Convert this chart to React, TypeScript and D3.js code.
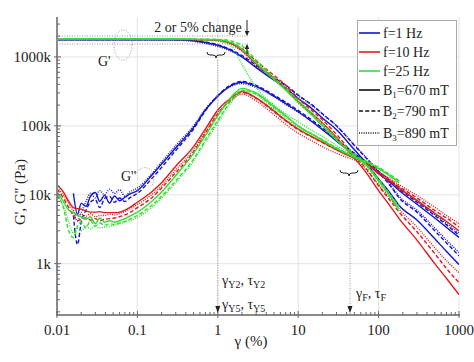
import React from "react";
import * as d3 from "d3";

// ---------- data ----------
const gpGamma = [0.01, 0.03, 0.1, 0.3, 0.5, 0.7, 1, 1.5, 2, 3, 5, 7, 10, 15, 20, 30, 50, 70, 100, 140, 180, 300, 500, 700, 1000];
const gppGamma = [0.01, 0.012, 0.014, 0.016, 0.018, 0.02, 0.023, 0.026, 0.03, 0.034, 0.039, 0.045, 0.052, 0.06, 0.07, 0.08, 0.1, 0.15, 0.2, 0.3, 0.5, 0.7, 1, 1.5, 2, 3, 5, 7, 10, 15, 20, 30, 50, 70, 100, 140, 180, 300, 500, 700, 1000];

// storage modulus G' (kPa)
const gpBlueB1 = [1780, 1780, 1780, 1770, 1720, 1620, 1480, 1230, 1000, 700, 460, 355, 250, 176, 130, 88, 45, 29, 17, 10.5, 7.0, 4.3, 2.3, 1.5, 0.97];
const gpBlueB2 = [1790, 1790, 1790, 1780, 1740, 1650, 1500, 1260, 1050, 760, 500, 390, 280, 200, 150, 100, 52, 34, 21, 13.5, 9.0, 5.6, 3.0, 2.0, 1.3];
const gpBlueB3 = [1770, 1770, 1770, 1750, 1680, 1570, 1420, 1200, 1000, 730, 490, 380, 275, 195, 148, 100, 53, 35, 22, 14, 9.5, 6.0, 3.3, 2.2, 1.45];
const gpRedB1 = [1800, 1800, 1800, 1800, 1790, 1770, 1740, 1550, 1250, 800, 490, 350, 225, 150, 110, 68, 34, 21, 11.5, 6.8, 4.5, 2.2, 1.0, 0.61, 0.355];
const gpRedB2 = [1810, 1810, 1810, 1810, 1800, 1790, 1760, 1600, 1320, 870, 540, 390, 250, 165, 122, 75, 37, 24, 13.5, 8.2, 5.6, 2.9, 1.4, 0.85, 0.53];
const gpRedB3 = [1790, 1790, 1790, 1790, 1780, 1760, 1720, 1500, 1200, 760, 470, 335, 215, 145, 106, 66, 34, 23, 14, 8.8, 6.2, 3.4, 1.7, 1.1, 0.74];
const gpGreenB1 = [1820, 1820, 1820, 1820, 1810, 1790, 1780, 1600, 1300, 820, 470, 330, 220, 140, 100, 62, 37, 27, 16, 9.5, 6.2, null, null, null, null];
const gpGreenB2 = [1830, 1830, 1830, 1830, 1820, 1810, 1800, 1700, 1450, 900, 500, 350, 235, 150, 108, 66, 39, 28, 17, 10, 6.8, null, null, null, null];
const gpGreenB3 = [1810, 1810, 1810, 1800, 1780, 1750, 1700, 1400, 780, 360, 200, 150, 115, 85, 70, 52, 35, 26, 15, 9, 5.6, null, null, null, null];

// loss modulus G'' (kPa)
const gppBlueB1 = [null, null, null, 10.5, 5.2, 7.5, 6.8, 9.5, 10.8, 8.0, 9.8, 7.6, 9.6, 8.2, 9.2, 10.2, 11.5, 19, 28, 48, 95, 170, 270, 390, 430, 375, 270, 210, 160, 114, 88, 60, 38, 29, 20.5, 15, 11.5, 7.3, 4.6, 3.35, 2.4];
const gppBlueB2 = [null, null, null, 5.0, 1.9, 4.0, 6.0, 7.8, 8.5, 6.5, 8.8, 9.5, 7.8, 9.0, 8.0, 9.0, 10.5, 17, 25, 44, 90, 165, 275, 400, 440, 385, 280, 220, 168, 120, 93, 64, 40, 30, 21.5, 15.8, 12.2, 7.8, 5.0, 3.65, 2.6];
const gppBlueB3 = [null, null, null, 6.0, 4.2, 5.5, 8.0, 10.5, 9.0, 11.5, 10.0, 12.0, 10.5, 11.8, 9.5, 11.0, 12.5, 20, 30, 52, 100, 175, 275, 380, 410, 360, 265, 205, 158, 115, 90, 63, 40, 30.5, 22, 16.2, 12.6, 8.1, 5.2, 3.85, 2.8];
const gppRedB1 = [14, 11, 8.0, 6.5, 6.3, 6.2, 5.8, 5.6, 5.6, 5.7, 5.5, 5.5, 5.5, 5.6, 6.0, 6.5, 7.8, 11, 15, 26, 50, 90, 170, 260, 315, 255, 165, 120, 90, 69, 58, 45, 34, 29, 20, 15.5, 12.5, 8.3, 5.4, 4.1, 3.0];
const gppRedB2 = [12, 9, 6.5, 5.0, 4.2, 4.4, 4.6, 4.3, 4.5, 4.2, 4.4, 4.5, 4.6, 4.8, 5.1, 5.5, 6.5, 9, 12.5, 21, 42, 78, 150, 245, 305, 250, 160, 118, 88, 68, 57, 45, 34.5, 29.5, 21, 16.2, 13.2, 9.0, 5.9, 4.6, 3.4];
const gppRedB3 = [12.5, 10, 7.5, 5.8, 5.0, 5.2, 4.9, 5.3, 4.8, 5.0, 5.0, 5.2, 5.1, 5.4, 5.7, 6.2, 7.2, 10, 13.5, 23, 45, 82, 155, 240, 290, 230, 145, 105, 78, 60, 50, 40, 32, 28, 21.5, 17, 14, 9.8, 6.6, 5.0, 3.8];
const gppGreenB1 = [11, 8.0, 6.0, 5.5, 5.0, 4.8, 4.4, 4.8, 3.8, 4.6, 4.0, 4.2, 4.0, 4.2, 4.5, 4.9, 5.6, 8, 11, 19, 40, 72, 140, 270, 350, 300, 190, 140, 100, 75, 62, 47, 35, 30, 24, 18.5, 15, null, null, null, null];
const gppGreenB2 = [10, 6.5, 3.0, 2.4, 3.5, 4.0, 3.3, 4.2, 3.5, 3.9, 3.6, 3.8, 3.7, 3.9, 4.1, 4.4, 5.0, 7, 9.5, 16, 33, 62, 120, 240, 330, 290, 185, 138, 100, 76, 63, 48, 36, 31, 25, 19.5, 16, null, null, null, null];
const gppGreenB3 = [9.5, 7.0, 4.0, 2.8, 3.2, 3.0, 3.5, 3.2, 3.6, 3.3, 3.4, 3.5, 3.6, 3.8, 4.0, 4.2, 4.7, 6.5, 9, 15, 31, 58, 110, 225, 320, 280, 175, 130, 95, 72, 60, 46, 35, 30, 24.5, 19, 15.5, null, null, null, null];

const xTicks = [0.01, 0.1, 1, 10, 100, 1000];
const xTickLabels = ["0.01", "0.1", "1", "10", "100", "1000"];
const yTicks = [1e3, 1e4, 1e5, 1e6];
const yTickLabels = ["1k", "10k", "100k", "1000k"];

const freqLabels = ["f=1 Hz", "f=10 Hz", "f=25 Hz"];
const fieldSubs = ["1", "2", "3"];
const fieldValues = ["=670 mT", "=790 mT", "=890 mT"];

// ---------- styles ----------
const COLORS = ["#1414cc", "#e41a1a", "#2fe02f"];
const DASHES = [null, "4,2.2", "1,1.3"];
const FONT = "Liberation Serif, DejaVu Serif, serif";
const TXT = "#222";
const TS = { fontFamily: FONT };

const W = 474, H = 362;
const x = d3.scaleLog().domain([0.01, 1000]).range([57, 459]);
const y = d3.scaleLog().domain([180, 3.8e6]).range([315, 17]);

const series = [
  { c: 0, f: 0, g: gpBlueB1, gp: gppBlueB1 },
  { c: 0, f: 1, g: gpBlueB2, gp: gppBlueB2 },
  { c: 0, f: 2, g: gpBlueB3, gp: gppBlueB3 },
  { c: 1, f: 0, g: gpRedB1, gp: gppRedB1 },
  { c: 1, f: 1, g: gpRedB2, gp: gppRedB2 },
  { c: 1, f: 2, g: gpRedB3, gp: gppRedB3 },
  { c: 2, f: 0, g: gpGreenB1, gp: gppGreenB1 },
  { c: 2, f: 1, g: gpGreenB2, gp: gppGreenB2 },
  { c: 2, f: 2, g: gpGreenB3, gp: gppGreenB3 },
];

const line = d3
  .line<[number, number | null]>()
  .defined((d) => d[1] != null)
  .x((d) => x(d[0]))
  .y((d) => y((d[1] as number) * 1000))
  .curve(d3.curveMonotoneX);

function minorTicks(lo: number, hi: number) {
  const out: number[] = [];
  for (let e = Math.floor(Math.log10(lo)); e <= Math.ceil(Math.log10(hi)); e++) {
    for (let m = 2; m <= 9; m++) {
      const v = m * Math.pow(10, e);
      if (v > lo && v < hi) out.push(v);
    }
  }
  return out;
}

function Brace({ cx, cy, w }: { cx: number; cy: number; w: number }) {
  const h = w / 2;
  const d = `M${cx - h},${cy - 3} Q${cx - h},${cy} ${cx - h + 3},${cy} L${cx - 3},${cy} Q${cx},${cy} ${cx},${cy + 3} Q${cx},${cy} ${cx + 3},${cy} L${cx + h - 3},${cy} Q${cx + h},${cy} ${cx + h},${cy - 3}`;
  return <path d={d} fill="none" stroke="#222" strokeWidth={1} />;
}

export default function App() {
  const xMinor = minorTicks(0.01, 1000);
  const yMinor = minorTicks(180, 3.8e6);
  const ordered = [0, 1, 2].flatMap((c) => series.filter((s) => s.c === c));
  return (
    <svg width={W} height={H} style={{ position: "absolute", left: 0, top: 0, background: "#fff", fontFamily: FONT }}>
      <defs>
        <clipPath id="plot">
          <rect x={57} y={17} width={402} height={298} />
        </clipPath>
        <marker id="ah" viewBox="0 0 6 6" refX={5} refY={3} markerWidth={5} markerHeight={5} orient="auto">
          <path d="M0,0 L6,3 L0,6 z" fill="#222" />
        </marker>
      </defs>

      {/* gridlines */}
      {xTicks.slice(1).map((t) => (
        <line key={"gx" + t} x1={x(t)} x2={x(t)} y1={17} y2={315} stroke="#e3e3e3" strokeWidth={1} />
      ))}
      {yTicks.map((t) => (
        <line key={"gy" + t} x1={57} x2={459} y1={y(t)} y2={y(t)} stroke="#e3e3e3" strokeWidth={1} />
      ))}

      {/* 2 or 5% change guides */}
      <line x1={57} x2={248} y1={36} y2={36} stroke="#999" strokeWidth={1} strokeDasharray="1,1.5" />
      <line x1={57} x2={248} y1={44} y2={44} stroke="#999" strokeWidth={1} strokeDasharray="1,1.5" />

      {/* curves */}
      <g clipPath="url(#plot)">
        {ordered.map((s, i) => (
          <g key={i}>
            <path
              d={line(gpGamma.map((g, k) => [g, s.g[k]]) as any) || ""}
              fill="none"
              stroke={COLORS[s.c]}
              strokeWidth={1.4}
              strokeDasharray={DASHES[s.f] || undefined}
            />
            <path
              d={line(gppGamma.map((g, k) => [g, s.gp[k]]) as any) || ""}
              fill="none"
              stroke={COLORS[s.c]}
              strokeWidth={1.4}
              strokeDasharray={DASHES[s.f] || undefined}
            />
          </g>
        ))}
      </g>

      {/* axes */}
      <line x1={57} x2={57} y1={17} y2={316} stroke="#8a8a8a" strokeWidth={2} />
      <line x1={56} x2={460} y1={315} y2={315} stroke="#8a8a8a" strokeWidth={2} />
      {xTicks.map((t) => (
        <line key={"xt" + t} x1={x(t)} x2={x(t)} y1={311} y2={318} stroke="#666" strokeWidth={1} />
      ))}
      {xMinor.map((t) => (
        <line key={"xm" + t} x1={x(t)} x2={x(t)} y1={312} y2={315} stroke="#666" strokeWidth={1} />
      ))}
      {yTicks.map((t) => (
        <line key={"yt" + t} x1={54} x2={61} y1={y(t)} y2={y(t)} stroke="#666" strokeWidth={1} />
      ))}
      {yMinor.map((t) => (
        <line key={"ym" + t} x1={57} x2={60} y1={y(t)} y2={y(t)} stroke="#666" strokeWidth={1} />
      ))}
      {xTicks.map((t, i) => (
        <text key={"xl" + t} style={TS} x={x(t)} y={335} fontSize={15} textAnchor="middle" fill={TXT}>
          {xTickLabels[i]}
        </text>
      ))}
      {yTicks.map((t, i) => (
        <text key={"yl" + t} style={TS} x={51} y={y(t) + 5} fontSize={15} textAnchor="end" fill={TXT}>
          {yTickLabels[i]}
        </text>
      ))}
      <text style={TS} x={251} y={346} fontSize={15} textAnchor="middle" fill={TXT}>γ (%)</text>
      <text style={TS} transform="translate(25,192) rotate(-90)" fontSize={15} textAnchor="middle" fill={TXT}>
        G', G'' (Pa)
      </text>

      {/* annotations */}
      <text style={TS} x={198} y={32} fontSize={14} textAnchor="middle" fill={TXT}>2 or 5% change</text>
      <line x1={247} x2={247} y1={20} y2={35} stroke="#222" strokeWidth={1} markerEnd="url(#ah)" />
      <line x1={247} x2={247} y1={54} y2={45} stroke="#222" strokeWidth={1} markerEnd="url(#ah)" />
      <ellipse cx={123} cy={45} rx={9} ry={15} fill="none" stroke="#999" strokeWidth={1} strokeDasharray="1,1.5" />
      <text style={TS} x={98} y={66} fontSize={14} fill={TXT}>G'</text>
      <path d="M136,173 Q143,164 151,170 Q156,176 152,186" fill="none" stroke="#999" strokeWidth={1} strokeDasharray="1,1.5" />
      <text style={TS} x={121} y={181} fontSize={14} fill={TXT}>G''</text>

      <Brace cx={216} cy={55} w={18} />
      <line x1={x(1)} x2={x(1)} y1={60} y2={314} stroke="#999" strokeWidth={1} strokeDasharray="1,1.5" />
      <path d={`M${x(1) - 2.5},306 L${x(1) + 2.5},306 L${x(1)},313 z`} fill="#222" />
      <Brace cx={349} cy={173} w={18} />
      <line x1={350} x2={350} y1={178} y2={314} stroke="#999" strokeWidth={1} strokeDasharray="1,1.5" />
      <path d="M347.5,306 L352.5,306 L350,313 z" fill="#222" />

      <text style={TS} x={222} y={285} fontSize={14} fill={TXT}>
        γ<tspan fontSize={10} dy={3}>Y2</tspan>
        <tspan dy={-3}>, τ</tspan>
        <tspan fontSize={10} dy={3}>Y2</tspan>
      </text>
      <text style={TS} x={222} y={309} fontSize={14} fill={TXT}>
        γ<tspan fontSize={10} dy={3}>Y5</tspan>
        <tspan dy={-3}>, τ</tspan>
        <tspan fontSize={10} dy={3}>Y5</tspan>
      </text>
      <text style={TS} x={356} y={298} fontSize={14} fill={TXT}>
        γ<tspan fontSize={10} dy={3}>F</tspan>
        <tspan dy={-3}>, τ</tspan>
        <tspan fontSize={10} dy={3}>F</tspan>
      </text>

      {/* legend */}
      <rect x={357.5} y={20.5} width={99} height={125} fill="#fff" stroke="#aaa" strokeWidth={1} />
      {freqLabels.map((lab, i) => {
        const yy = [33, 52, 71][i];
        return (
          <g key={lab}>
            <line x1={359} x2={380} y1={yy} y2={yy} stroke={COLORS[i]} strokeWidth={1.6} />
            <text style={TS} x={383} y={yy + 5} fontSize={14} fill={TXT}>{lab}</text>
          </g>
        );
      })}
      {fieldSubs.map((sub, i) => {
        const yy = [90, 111, 133][i];
        return (
          <g key={sub}>
            <line x1={359} x2={380} y1={yy} y2={yy} stroke="#111" strokeWidth={1.6} strokeDasharray={DASHES[i] || undefined} />
            <text style={TS} x={383} y={yy + 5} fontSize={14} fill={TXT}>
              B<tspan fontSize={9} dy={3}>{sub}</tspan>
              <tspan dy={-3}>{fieldValues[i]}</tspan>
            </text>
          </g>
        );
      })}
    </svg>
  );
}
